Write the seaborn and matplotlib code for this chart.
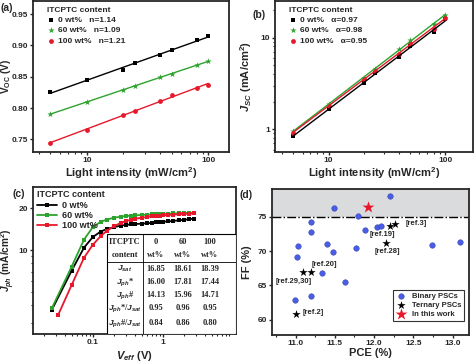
# Light intensity dependence, Jph-Veff and FF vs PCE (four panels)

import numpy as np
import seaborn as sns
import matplotlib.pyplot as plt
from matplotlib.ticker import FixedLocator, FuncFormatter, NullFormatter, LogLocator, MultipleLocator
from matplotlib.patches import Rectangle

sns.set_style("ticks")
plt.rcParams["font.family"] = ["Liberation Sans", "DejaVu Sans"]
plt.rcParams["font.weight"] = "bold"
plt.rcParams["axes.labelweight"] = "bold"
plt.rcParams["mathtext.fontset"] = "custom"
plt.rcParams["mathtext.rm"] = "Liberation Sans:bold"
plt.rcParams["mathtext.it"] = "Liberation Sans:italic:bold"
plt.rcParams["mathtext.bf"] = "Liberation Sans:bold"

#%%
# Data
content = ["0 wt%", "60 wt%", "100 wt%"]
colors = ["#000000", "#2ca32c", "#e8182b"]

intensity = [5, 10, 20, 25, 40, 50, 80, 100]

# (a) Voc vs light intensity
voc_0 = [0.826, 0.845, 0.861, 0.872, 0.884, 0.893, 0.909, 0.915]
voc_60 = [0.791, 0.810, 0.829, 0.835, 0.849, 0.855, 0.869, 0.875]
voc_100 = [0.745, 0.765, 0.789, 0.796, 0.811, 0.821, 0.832, 0.837]
n_values = ["1.14", "1.09", "1.21"]

# (b) Jsc vs light intensity
jsc_0 = [0.845, 1.65, 3.17, 4.08, 6.2, 8.1, 11.4, 15.8]
jsc_60 = [0.96, 1.87, 3.65, 4.5, 7.5, 9.4, 14.0, 17.6]
jsc_100 = [0.92, 1.80, 3.54, 4.3, 6.7, 8.7, 12.3, 16.5]
alpha_values = ["0.97", "0.98", "0.95"]

# (c) Jph vs Veff
veff_0 = [0.026, 0.05, 0.075, 0.1, 0.13, 0.16, 0.2, 0.25, 0.3, 0.35, 0.4, 0.5,
          0.6, 0.7, 0.8, 0.9, 1.0, 1.2, 1.4, 1.7, 2.0, 2.4, 2.8]
jph_0 = [3.7, 7.1, 10.4, 12.4, 13.6, 14.2, 14.6, 15.0, 15.2, 15.3, 15.4, 15.5,
         15.6, 15.7, 15.8, 15.9, 16.0, 16.1, 16.2, 16.4, 16.5, 16.7, 16.85]
veff_60 = [0.026, 0.05, 0.075, 0.1, 0.13, 0.16, 0.2, 0.25, 0.3, 0.35, 0.4, 0.5,
           0.6, 0.7, 0.8, 0.9, 1.0, 1.2, 1.4, 1.7, 2.0, 2.4, 2.8]
jph_60 = [3.8, 7.6, 11.9, 14.6, 16.0, 16.6, 17.1, 17.4, 17.6, 17.7, 17.8, 17.9,
          18.0, 18.05, 18.1, 18.15, 18.2, 18.3, 18.35, 18.45, 18.5, 18.55, 18.6]
veff_100 = [0.032, 0.05, 0.075, 0.1, 0.13, 0.16, 0.2, 0.25, 0.3, 0.35, 0.4, 0.5,
            0.6, 0.7, 0.8, 0.9, 1.0, 1.2, 1.4, 1.7, 2.0, 2.4, 2.8]
jph_100 = [3.4, 5.6, 8.8, 10.9, 12.6, 13.8, 14.8, 15.7, 16.2, 16.5, 16.8, 17.1,
           17.3, 17.5, 17.6, 17.7, 17.8, 17.9, 18.0, 18.1, 18.2, 18.3, 18.4]

# (c) inset table
table_header = ["ITCPTC\ncontent", "0\nwt%", "60\nwt%", "100\nwt%"]
table_rows = [r"$J_{sat}$", r"$J_{ph}$*", r"$J_{ph}$#", r"$J_{ph}$*/$J_{sat}$", r"$J_{ph}$#/$J_{sat}$"]
table_vals = [["16.85", "18.61", "18.39"],
              ["16.00", "17.81", "17.44"],
              ["14.13", "15.96", "14.71"],
              ["0.95", "0.96", "0.95"],
              ["0.84", "0.86", "0.80"]]

# (d) FF vs PCE
binary_pce = [10.99, 11.19, 11.03, 11.02, 11.20, 11.19, 11.40, 11.47, 11.34, 11.63,
              11.49, 11.77, 11.80, 11.89, 12.04, 12.09, 12.20, 12.74, 13.10]
binary_ff = [62.9, 63.5, 70.8, 69.2, 74.2, 72.7, 71.0, 69.8, 66.8, 65.5,
             76.2, 70.5, 75.1, 73.0, 73.5, 73.7, 78.0, 70.9, 71.3]
ternary_pce = [11.00, 11.09, 11.20, 12.15, 12.20, 12.27]
ternary_ff = [60.9, 66.9, 66.9, 71.2, 73.7, 73.9]
this_pce = [11.92]
this_ff = [76.45]

#%%
fig = plt.figure(figsize=(4.74, 3.63), dpi=100)
ax_a = fig.add_axes([0.0696, 0.5813, 0.4135, 0.416])
ax_b = fig.add_axes([0.580, 0.5813, 0.4177, 0.416])
ax_c = fig.add_axes([0.0696, 0.0799, 0.428, 0.405])
ax_d = fig.add_axes([0.574, 0.0771, 0.4156, 0.402])

plain = FuncFormatter(lambda v, pos: f"{v:g}")

for ax in (ax_a, ax_b, ax_c, ax_d):
    ax.tick_params(which="major", direction="out", length=2.5, width=1, labelsize=6.0, pad=1)
    ax.tick_params(which="minor", direction="out", length=1.5, width=0.8)
    for sp in ax.spines.values():
        sp.set_linewidth(1.3)

#%%
# (a) Voc vs light intensity, fitted against ln(I)
x_int = np.array(intensity, dtype=float)
handles = []
for vals, col, mk in zip([voc_0, voc_60, voc_100], colors, ["s", "*", "o"]):
    sns.regplot(x=x_int, y=np.array(vals), logx=True, ci=None, marker=mk, color=col, ax=ax_a,
                scatter_kws={"s": 12 if mk != "*" else 22, "alpha": 1, "linewidths": 0},
                line_kws={"lw": 1.0})
    handles.append(ax_a.collections[-1])
ax_a.set_xscale("log")
ax_a.set_xlim(3.6, 148)
ax_a.set_ylim(0.73, 0.971)
ax_a.yaxis.set_major_locator(FixedLocator([0.75, 0.80, 0.85, 0.90, 0.95]))
ax_a.yaxis.set_major_formatter(FuncFormatter(lambda v, pos: f"{v:.2f}"))
ax_a.xaxis.set_major_locator(FixedLocator([10, 100]))
ax_a.xaxis.set_major_formatter(plain)
ax_a.xaxis.set_minor_locator(LogLocator(base=10, subs=np.arange(2, 10)))
ax_a.xaxis.set_minor_formatter(NullFormatter())
ax_a.set_xlabel("Light intensity (mW/cm$^2$)", fontsize=8)
ax_a.set_ylabel("V$_{\\mathrm{OC}}$ (V)", fontsize=7.2)
ax_a.xaxis.set_label_coords(0.5, -0.09)
ax_a.yaxis.set_label_coords(-0.102, 0.5)
ax_a.legend(handles=handles, labels=[f"{c}   n={n}" for c, n in zip(content, n_values)],
            title="ITCPTC content", loc="upper left", bbox_to_anchor=(0.04, 1.0), frameon=False,
            fontsize=6, title_fontsize=6, alignment="left", handlelength=1.0, handletextpad=0.4,
            labelspacing=0.3, borderpad=0.2)

#%%
# (b) Jsc vs light intensity, power-law fit
handles = []
for vals, col, mk in zip([jsc_0, jsc_60, jsc_100], colors, ["s", "*", "o"]):
    sns.scatterplot(x=intensity, y=vals, marker=mk, color=col, s=12 if mk != "*" else 22,
                    linewidth=0, ax=ax_b)
    handles.append(ax_b.collections[-1])
    slope, icpt = np.polyfit(np.log10(intensity), np.log10(vals), 1)
    xfit = np.array([intensity[0], intensity[-1]], dtype=float)
    ax_b.plot(xfit, 10 ** (icpt + slope * np.log10(xfit)), color=col, lw=1.0)
ax_b.set_xscale("log")
ax_b.set_yscale("log")
ax_b.set_xlim(3.47, 173)
ax_b.set_ylim(0.565, 25.1)
for axis in (ax_b.xaxis, ax_b.yaxis):
    axis.set_major_locator(LogLocator(base=10))
    axis.set_major_formatter(plain)
    axis.set_minor_locator(LogLocator(base=10, subs=np.arange(2, 10)))
    axis.set_minor_formatter(NullFormatter())
ax_b.set_xlabel("Light intensity (mW/cm$^2$)", fontsize=8)
ax_b.set_ylabel("$J_{SC}$ (mA/cm$^2$)", fontsize=8)
ax_b.xaxis.set_label_coords(0.5, -0.09)
ax_b.yaxis.set_label_coords(-0.105, 0.5)
ax_b.legend(handles=handles, labels=[f"{c}   \u03b1={a}" for c, a in zip(content, alpha_values)],
            title="ITCPTC content", loc="upper left", bbox_to_anchor=(0.04, 1.0), frameon=False,
            fontsize=6, title_fontsize=6, alignment="left", handlelength=1.0, handletextpad=0.4,
            labelspacing=0.3, borderpad=0.2)

#%%
# (c) Jph vs Veff
for v, j, col, lab in zip([veff_0, veff_60, veff_100], [jph_0, jph_60, jph_100], colors, content):
    sns.lineplot(x=v, y=j, color=col, lw=1.3, marker="s", markersize=2.8, markeredgewidth=0,
                 ax=ax_c, label=lab, sort=False)
ax_c.set_xscale("log")
ax_c.set_yscale("log")
ax_c.set_xlim(0.014, 11.1)
ax_c.set_ylim(2.48, 28.5)
ax_c.xaxis.set_major_locator(FixedLocator([0.1, 1]))
ax_c.xaxis.set_major_formatter(plain)
ax_c.xaxis.set_minor_locator(LogLocator(base=10, subs=np.arange(2, 10)))
ax_c.xaxis.set_minor_formatter(NullFormatter())
ax_c.yaxis.set_major_locator(FixedLocator([10, 20]))
ax_c.yaxis.set_major_formatter(plain)
ax_c.yaxis.set_minor_locator(LogLocator(base=10, subs=np.arange(2, 10)))
ax_c.yaxis.set_minor_formatter(NullFormatter())
ax_c.set_xlabel("$V_{eff}$ (V)", fontsize=8)
ax_c.set_ylabel("$J_{ph}$ (mA/cm$^2$)", fontsize=7.3)
ax_c.xaxis.set_label_coords(0.5, -0.105)
ax_c.yaxis.set_label_coords(-0.08, 0.5)
ax_c.legend(title="ITCPTC content", loc="upper left", bbox_to_anchor=(-0.01, 1.02), frameon=False,
            fontsize=6.5, title_fontsize=6.5, alignment="left", handlelength=2.2, handletextpad=0.5,
            labelspacing=0.15, borderpad=0.2)

# inset table
tx0, ty1 = 0.365, 0.68
ax_c.add_patch(Rectangle((tx0, 0), 1 - tx0, ty1, transform=ax_c.transAxes, facecolor="white",
                         edgecolor="black", lw=0.8, zorder=5))
ax_c.plot([tx0, 1], [0.488, 0.488], transform=ax_c.transAxes, color="black", lw=0.6, zorder=6)
ax_c.plot([0.543, 0.543], [0, ty1], transform=ax_c.transAxes, color="black", lw=0.6, zorder=6)
col_x = [0.453, 0.606, 0.737, 0.872]
head_y = [0.628, 0.537]
row_y = [0.44, 0.356, 0.265, 0.175, 0.077]
tfont = dict(family=["Liberation Serif", "DejaVu Serif"], weight="bold", fontsize=6,
             ha="center", va="center", transform=ax_c.transAxes, zorder=7)
for cx, head in zip(col_x, table_header):
    top, bottom = head.split("\n")
    ax_c.text(cx, head_y[0], top, **tfont)
    ax_c.text(cx, head_y[1], bottom, **tfont)
for ry, name, vals in zip(row_y, table_rows, table_vals):
    ax_c.text(col_x[0], ry, name, **tfont)
    for cx, val in zip(col_x[1:], vals):
        ax_c.text(cx, ry, val, **tfont)

#%%
# (d) FF vs PCE
ax_d.axhspan(75, 80, color="#d9dbdc", zorder=0, lw=0)
ax_d.axhline(75, color="black", ls="-.", lw=1.0, zorder=1)
sns.scatterplot(x=binary_pce, y=binary_ff, color="#4a5de6", s=16, edgecolor="#27369e",
                linewidth=0.3, ax=ax_d, label="Binary PSCs", zorder=3)
sns.scatterplot(x=ternary_pce, y=ternary_ff, marker="*", color="black", s=40, linewidth=0,
                ax=ax_d, label="Ternary PSCs", zorder=3)
sns.scatterplot(x=this_pce, y=this_ff, marker="*", color="#e8182b", s=80, linewidth=0,
                ax=ax_d, label="In this work", zorder=4)
refs = [("[ref.2]", 11.09, 61.0, "left"), ("[ref.29,30]", 10.75, 65.6, "left"),
        ("[ref.20]", 11.37, 68.1, "center"), ("[ref.28]", 12.17, 70.0, "center"),
        ("[ref.19]", 12.10, 72.4, "center"), ("[ref.3]", 12.40, 74.0, "left")]
for txt, x, y, ha in refs:
    ax_d.text(x, y, txt, fontsize=5.5, ha=ha, va="center")
ax_d.set_xlim(10.7, 13.21)
ax_d.set_ylim(57.8, 79.0)
ax_d.xaxis.set_major_locator(MultipleLocator(0.5))
ax_d.xaxis.set_minor_locator(MultipleLocator(0.25))
ax_d.xaxis.set_major_formatter(FuncFormatter(lambda v, pos: f"{v:.1f}"))
ax_d.yaxis.set_major_locator(MultipleLocator(5))
ax_d.set_xlabel("PCE (%)", fontsize=8)
ax_d.set_ylabel("FF (%)", fontsize=8)
ax_d.xaxis.set_label_coords(0.5, -0.09)
ax_d.yaxis.set_label_coords(-0.1, 0.5)
leg = ax_d.legend(loc="lower right", bbox_to_anchor=(0.995, 0.07), fontsize=5.5, frameon=True,
                  fancybox=False, edgecolor="black", handletextpad=0.6, labelspacing=0.2,
                  borderpad=0.4, handlelength=1.5)
leg.get_frame().set_linewidth(0.8)

#%%
# Panel letters
fig.text(0.002, 0.978, "(a)", fontsize=7.5, ha="left", va="center")
fig.text(0.532, 0.959, "(b)", fontsize=7.5, ha="left", va="center")
fig.text(0.027, 0.466, "(c)", fontsize=7.5, ha="left", va="center")
fig.text(0.506, 0.463, "(d)", fontsize=7.5, ha="left", va="center")

fig.savefig("out.png", dpi=100)
